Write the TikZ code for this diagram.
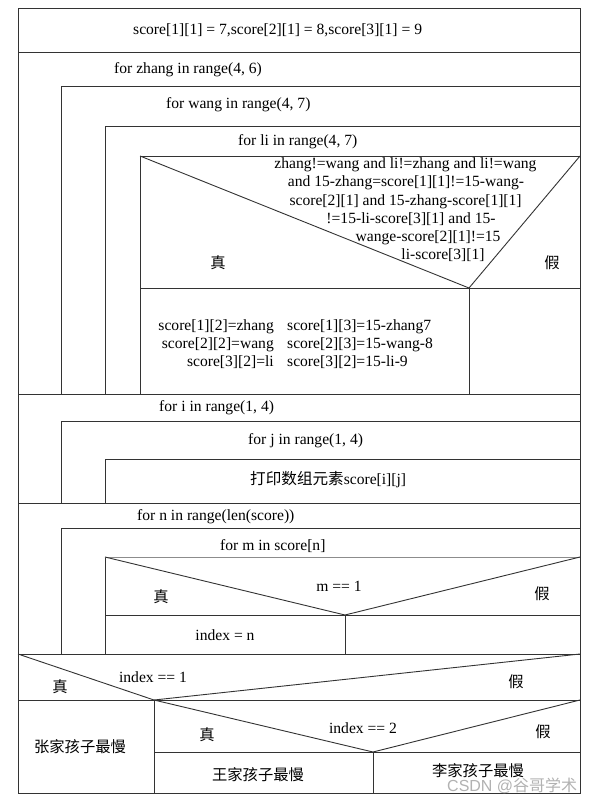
\documentclass[tikz,border=0pt]{standalone}
\usepackage{fontspec}
\setmainfont{Liberation Serif}
\newfontfamily\cjk{Noto Sans CJK SC}
\newfontfamily\wmfont{Liberation Sans}
\begin{document}
\begin{tikzpicture}[x=1pt,y=-1pt,
  ns/.style={draw=black!80,line width=0.9pt,line join=miter},
  thinline/.style={draw=black!45,line width=0.6pt},
  lbl/.style={inner sep=0pt,font=\fontsize{15.6}{17.8}\selectfont},
  cn/.style={inner sep=0pt,font=\cjk\fontsize{15.3}{17}\selectfont},
  wm/.style={inner sep=0pt,text=black!30,font=\wmfont\fontsize{16}{18}\selectfont}]
\useasboundingbox (0,0) rectangle (599,803);
\fill[white] (0,0) rectangle (599,803);
% frame and blocks
\draw[ns] (18,8) rectangle (580,793);
\draw[ns] (18,52) -- (580,52);
\draw[ns] (61,394) -- (61,86) -- (580,86);
\draw[ns] (105,394) -- (105,126) -- (580,126);
\draw[ns] (140,394) -- (140,156) -- (580,156);
\draw[ns] (140,156) -- (469,288) -- (580,156);
\draw[ns] (140,288) -- (580,288);
\draw[ns] (469,288) -- (469,394);
\draw[ns] (18,394) -- (580,394);
\draw[ns] (61,503) -- (61,421) -- (580,421);
\draw[ns] (105,503) -- (105,459) -- (580,459);
\draw[ns] (18,503) -- (580,503);
\draw[ns] (61,654) -- (61,528) -- (580,528);
\draw[ns] (105,654) -- (105,557);
\draw[thinline] (105,557) -- (580,557);
\draw[ns] (105,557) -- (345,615) -- (580,557);
\draw[ns] (105,615) -- (580,615);
\draw[ns] (345,615) -- (345,654);
\draw[ns] (18,654) -- (580,654);
\draw[ns] (18,654) -- (154,700) -- (580,654);
\draw[ns] (18,700) -- (580,700);
\draw[ns] (154,700) -- (154,793);
\draw[ns] (154,700) -- (373,752) -- (580,700);
\draw[ns] (154,752) -- (580,752);
\draw[ns] (373,752) -- (373,793);
% texts
\node[lbl,anchor=mid west] (t0) at (133,32) {score[1][1] = 7,score[2][1] = 8,score[3][1] = 9};
\node[lbl,anchor=mid west] (zhang) at (114,71) {for zhang in range(4, 6)};
\node[lbl,anchor=mid west] (wang) at (166,106) {for wang in range(4, 7)};
\node[lbl,anchor=mid west] (li) at (238,143) {for li in range(4, 7)};
\node[lbl,anchor=mid] (c1) at (405.5,166) {zhang!=wang and li!=zhang and li!=wang};
\node[lbl,anchor=mid] (c2) at (406,184.5) {and 15-zhang=score[1][1]!=15-wang-};
\node[lbl,anchor=mid] (c3) at (405.6,203) {score[2][1] and 15-zhang-score[1][1]};
\node[lbl,anchor=mid] (c4) at (411,221) {!=15-li-score[3][1] and 15-};
\node[lbl,anchor=mid] (c5) at (428,239) {wange-score[2][1]!=15};
\node[lbl,anchor=mid] (c6) at (443,257) {li-score[3][1]};
\node[cn] (zhen1) at (218,263) {真};
\node[cn] (jia1) at (552,263) {假};
\node[lbl,anchor=east,align=right] (asgL) at (274,344) {score[1][2]=zhang\\score[2][2]=wang\\score[3][2]=li};
\node[lbl,anchor=west,align=left] (asgR) at (287,344) {score[1][3]=15-zhang7\\score[2][3]=15-wang-8\\score[3][2]=15-li-9};
\node[lbl,anchor=mid west] (fori) at (159,409) {for i in range(1, 4)};
\node[lbl,anchor=mid west] (forj) at (248,442) {for j in range(1, 4)};
\node[lbl,anchor=mid west] (print) at (250,482) {{\cjk 打印数组元素}score[i][j]};
\node[lbl,anchor=mid west] (forn) at (137,518) {for n in range(len(score))};
\node[lbl,anchor=mid west] (form) at (220,548) {for m in score[n]};
\node[lbl,anchor=mid] (m1) at (339,589) {m == 1};
\node[cn] (zhen2) at (161,597) {真};
\node[cn] (jia2) at (542,594) {假};
\node[lbl,anchor=mid] (idxn) at (225,638) {index = n};
\node[lbl,anchor=mid] (idx1) at (153,680) {index == 1};
\node[cn] (zhen3) at (60,687) {真};
\node[cn] (jia3) at (516,682) {假};
\node[cn] (zhangslow) at (80,747) {张家孩子最慢};
\node[lbl,anchor=mid] (idx2) at (363,731) {index == 2};
\node[cn] (zhen4) at (207,735) {真};
\node[cn] (jia4) at (543,732) {假};
\node[cn] (wangslow) at (258,775) {王家孩子最慢};
\node[cn] (lislow) at (478,771) {李家孩子最慢};
\node[wm,anchor=west] (wmk) at (447,786) {CSDN @{\cjk 谷哥学术}};
\end{tikzpicture}
\end{document}
